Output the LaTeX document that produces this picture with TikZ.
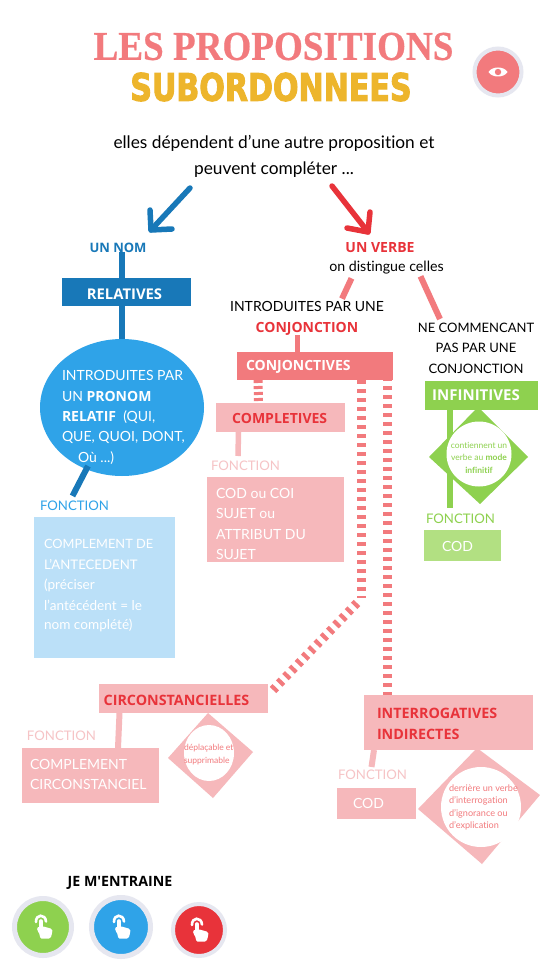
\documentclass[tikz,border=0pt]{standalone}
\usepackage{fontspec}
\setmainfont[Ligatures=NoCommon]{Lato}
\newfontfamily\boldlab{Open Sans}
\newfontfamily\titlefont[FakeBold=0.6]{Liberation Serif}
\newfontfamily\roughfont[FakeBold=3]{DejaVu Sans}
\usetikzlibrary{calc}
\definecolor{coral}{HTML}{F27A7D}
\definecolor{pinkb}{HTML}{F6B8BB}
\definecolor{redc}{HTML}{E8333A}
\definecolor{dblue}{HTML}{1878B8}
\definecolor{mblue}{HTML}{2FA3E8}
\definecolor{lblue}{HTML}{BBE0F8}
\definecolor{green}{HTML}{8ED14F}
\definecolor{lgreen}{HTML}{B2E082}
\definecolor{gold}{HTML}{EDB52C}
\definecolor{ringc}{HTML}{E6E7F0}
\definecolor{fpink}{HTML}{F6C4C6}
\tikzset{
  box/.style={inner sep=0pt,outer sep=0pt,draw=none},
  txt/.style={inner sep=0pt,outer sep=0pt,yshift=-0.8pt,font=\fontsize{14}{17}\selectfont},
  lab/.style={txt,yshift=-0.7pt,font=\fontsize{14}{17}\boldlab\bfseries},
  blk/.style={txt,text=black},
  wt/.style={txt,text=white,anchor=west},
  fct/.style={txt,anchor=west,font=\fontsize{13.2}{17}\selectfont},
  small/.style={inner sep=0pt,outer sep=0pt,anchor=west},
  pics/handicon/.style={code={
    \draw[white,line width=2.6pt,line cap=round] (-7,-5) .. controls (-7.5,-13) and (2.5,-13.5) .. (3,-5.5);
    \draw[white,line width=3.6pt,line cap=round] (-2.3,-6) -- (-2.3,3);
    \fill[white,rounded corners=1.5pt] (-4,0) -- (-6.3,0.5) -- (-5.5,3.5) -- (-3,8) -- (-3,11.5) -- (7.5,11.5) -- (9.3,5.5) -- (9.3,2) -- (-0.5,-0.8) -- cycle;
  }}
}
\begin{document}
\begin{tikzpicture}[x=1pt,y=-1pt]
\useasboundingbox (0,0) rectangle (540,960);
\fill[white] (0,0) rectangle (540,960);
% title
\node[inner sep=0pt,text=coral,xscale=0.905,font=\fontsize{41}{41}\titlefont\bfseries] (title) at (273.5,46.5) {LES PROPOSITIONS};
\node[inner sep=0pt,text=gold,xscale=0.97,yscale=1.22,font=\fontsize{31}{31}\roughfont\bfseries] (sub) at (271,87) {SUBORDONNEES};
% eye
\node[circle,fill=coral,draw=ringc,line width=4pt,minimum size=47pt,inner sep=0pt] (eye) at (498,72) {};
\fill[white] (488.5,72) .. controls (492,66) and (504,66) .. (507.5,72) .. controls (504,78) and (492,78) .. (488.5,72) -- cycle;
\fill[coral] (498,72) circle (3.2pt);
% intro
\node[blk,font=\fontsize{17.3}{20}\selectfont] (intro1) at (274,143) {elles dépendent d'une autre proposition et};
\node[blk,font=\fontsize{17.3}{20}\selectfont] (intro2) at (274,169) {peuvent compléter ...};
% arrows
\coordinate (ab0) at (190,188);
\coordinate (ab1) at (151,230);
\coordinate (ar0) at (332,186);
\coordinate (ar1) at (368,232);
\draw[dblue,line width=5.5pt,line cap=round,line join=round] (ab0) -- (ab1);
\draw[dblue,line width=5.5pt,line cap=round,line join=round] (150,210) -- (ab1) -- (172,229);
\draw[redc,line width=5.5pt,line cap=round,line join=round] (ar0) -- (ar1);
\draw[redc,line width=5.5pt,line cap=round,line join=round] (370,212) -- (ar1) -- (347,228);
% left column
\node[lab,text=dblue,font=\fontsize{13}{17}\boldlab\bfseries] (unnom) at (118,246) {UN NOM};
\node[box,fill=dblue,minimum width=129pt,minimum height=28pt] (rel) at (126.5,292) {};
\node[lab,text=white,font=\fontsize{14.8}{17}\boldlab\bfseries] (reltxt) at (124.5,293) {RELATIVES};
\fill[mblue] (122,407.5) ellipse (82pt and 68.5pt);
\node[box,minimum width=164pt,minimum height=137pt] (ell) at (122,407.5) {};
\draw[dblue,line width=5.5pt] ([xshift=4pt]unnom.south) -- ([xshift=-4.5pt]rel.north);
\draw[dblue,line width=6pt] ([xshift=-4.5pt]rel.south) -- ([xshift=0pt]ell.north);
\node[wt] (e1) at (62,375) {INTRODUITES PAR};
\node[wt] (e2) at (62,396) {UN {\boldlab\bfseries\fontsize{14}{17}\selectfont PRONOM}};
\node[wt] (e3) at (62,416) {{\boldlab\bfseries\fontsize{14}{17}\selectfont RELATIF}\ \ (QUI,};
\node[wt] (e4) at (62,437) {QUE, QUOI, DONT,};
\node[wt] (e5) at (78,457) {Où ...)};
\node[fct,text=mblue] (f1) at (40,505) {FONCTION};
\coordinate (bl0) at (88,466);
\draw[dblue,line width=6pt] (bl0) -- ([xshift=-2pt,yshift=5pt]f1.north);
\node[box,fill=lblue,minimum width=141pt,minimum height=141pt] (fb1) at (104.5,587.5) {};
\node[wt,font=\fontsize{12.8}{17}\selectfont] (l1) at (44,543) {COMPLEMENT DE};
\node[wt,font=\fontsize{13.2}{17}\selectfont] (l2) at (44,564) {L'ANTECEDENT};
\node[wt,font=\fontsize{13.6}{17}\selectfont] (l3) at (44,585) {(préciser};
\node[wt,font=\fontsize{13.6}{17}\selectfont] (l4) at (44,605) {l'antécédent = le};
\node[wt,font=\fontsize{13.6}{17}\selectfont] (l5) at (44,625) {nom complété)};
% verb
\node[lab,text=redc] (unverbe) at (380,246) {UN VERBE};
\node[blk,font=\fontsize{14.2}{17}\selectfont] (dist) at (386.5,267) {on distingue celles};
\node[blk] (intro3) at (307,306) {INTRODUITES PAR UNE};
\node[lab,text=redc] (conj) at (307,327) {CONJONCTION};
\node[blk,font=\fontsize{13}{17}\selectfont] (ne1) at (476,327) {NE COMMENCANT};
\node[blk,font=\fontsize{13}{17}\selectfont] (ne2) at (476,347) {PAS PAR UNE};
\node[blk,font=\fontsize{13}{17}\selectfont] (ne3) at (476,368) {CONJONCTION};
\draw[coral,line width=6pt] ([xshift=-35pt,yshift=-4pt]dist.south) -- ([xshift=35pt,yshift=3pt]intro3.north);
\draw[coral,line width=6pt] ([xshift=34pt,yshift=-2pt]dist.south) -- ([xshift=-36pt,yshift=4pt]ne1.north);
% conjonctives
\node[box,fill=coral,minimum width=156pt,minimum height=28pt] (conjb) at (315,366) {};
\node[lab,text=white,anchor=west] (conjt) at (246,365.5) {CONJONCTIVES};
\draw[coral,line width=5pt] ([xshift=-10pt]conj.south) -- ([xshift=-18pt]conjb.north);
\node[box,fill=pinkb,minimum width=129pt,minimum height=29pt] (comp) at (280.5,417.5) {};
\node[lab,text=redc] (compt) at (279.7,417) {COMPLETIVES};
\draw[coral,line width=9pt,dash pattern=on 3pt off 3pt] ([xshift=-57pt]conjb.south) -- ([xshift=-22pt]comp.north);
\draw[pinkb,line width=5.5pt] ([xshift=-42pt]comp.south) -- (238,456);
\node[fct,text=fpink] (f2) at (211,465) {FONCTION};
\node[box,fill=pinkb,minimum width=137pt,minimum height=85pt] (fb2) at (275.5,519.5) {};
\node[wt] (c1) at (216,493) {COD ou COI};
\node[wt] (c2) at (216,513) {SUJET ou};
\node[wt] (c3) at (216,534) {ATTRIBUT DU};
\node[wt] (c4) at (216,554) {SUJET};
% infinitives
\node[box,fill=green,minimum width=113pt,minimum height=29pt] (inf) at (481.5,395.5) {};
\node[lab,text=white,font=\fontsize{15}{17}\boldlab\bfseries] (inft) at (476,394) {INFINITIVES};
\node[fct,text=green] (f3) at (426,518) {FONCTION};
\draw[green,line width=5.5pt] ([xshift=-31.5pt]inf.south) -- (450,508);
\fill[green] (478,407) -- (528,457) -- (480,504) -- (429,457) -- cycle;
\fill[white] (479,454) circle (32.5pt);
\node[inner sep=0pt,text=green,font=\fontsize{8.5}{10}\selectfont] (d1) at (479,445) {contiennent un};
\node[inner sep=0pt,text=green,font=\fontsize{8.5}{10}\selectfont] (d2) at (479,457) {verbe au \textbf{mode}};
\node[inner sep=0pt,text=green,font=\fontsize{8.5}{10}\selectfont] (d3) at (479,470) {\textbf{infinitif}};
\node[box,fill=lgreen,minimum width=77pt,minimum height=31pt] (fb3) at (462.5,545.5) {};
\node[wt] (codg) at (442,546) {COD};
% circonstancielles
\node[box,fill=pinkb,minimum width=169pt,minimum height=29pt] (circ) at (183.5,698.5) {};
\node[lab,text=redc,font=\fontsize{14.3}{17}\boldlab\bfseries] (circt) at (176.5,699) {CIRCONSTANCIELLES};
\coordinate (corner) at (361,598);
\draw[coral,line width=9pt,dash pattern=on 4pt off 5pt] ([xshift=46pt]conjb.south) -- (corner);
\draw[coral,line width=9pt,dash pattern=on 4pt off 5pt] ([xshift=-4pt,yshift=-5pt]corner) -- ([xshift=5pt,yshift=-6pt]circ.north east);
\node[box,fill=pinkb,minimum width=169pt,minimum height=55pt] (inter) at (448.5,722.5) {};
\node[lab,text=redc,anchor=west,font=\fontsize{14.3}{17}\boldlab\bfseries] (i1) at (377,712) {INTERROGATIVES};
\node[lab,text=redc,anchor=west,font=\fontsize{14.3}{17}\boldlab\bfseries] (i2) at (377,733) {INDIRECTES};
\draw[coral,line width=9pt,dash pattern=on 4pt off 5pt] ([xshift=72pt,yshift=3pt]conjb.south) -- ([xshift=-61.5pt]inter.north);
\node[fct,text=fpink] (f4) at (27,735) {FONCTION};
\node[box,fill=pinkb,minimum width=137pt,minimum height=55pt] (fb4) at (90.5,775.5) {};
\draw[pinkb,line width=6pt] ([xshift=-64pt]circ.south) -- ([xshift=27.5pt]fb4.north);
\node[wt] (k1) at (30,764) {COMPLEMENT};
\node[wt] (k2) at (30,784) {CIRCONSTANCIEL};
\fill[pinkb] (208,713) -- (253,752) -- (213,798) -- (168,758) -- cycle;
\fill[white] (209,753) ellipse (25pt and 28pt);
\node[small,text=coral,font=\fontsize{8.5}{10}\selectfont] (s1) at (184,748) {déplaçable et};
\node[small,text=coral,font=\fontsize{8.5}{10}\selectfont] (s2) at (184,761) {supprimable};
% interrogatives lower
\node[fct,text=fpink] (f5) at (338,774) {FONCTION};
\draw[pinkb,line width=6pt] ([xshift=-74.5pt]inter.south) -- ([yshift=3pt,xshift=-1pt]f5.north);
\node[box,fill=pinkb,minimum width=79pt,minimum height=31pt] (fb5) at (376.5,803.5) {};
\node[wt] (codp) at (353,803) {COD};
\fill[pinkb] (477,748) -- (540,795) -- (482,864) -- (418,809) -- cycle;
\fill[white] (481,807) circle (40pt);
\node[small,text=coral,font=\fontsize{9.1}{11}\selectfont] (t1) at (449,788) {derrière un verbe};
\node[small,text=coral,font=\fontsize{9.1}{11}\selectfont] (t2) at (449,801) {d'interrogation};
\node[small,text=coral,font=\fontsize{9.1}{11}\selectfont] (t3) at (449,814) {d'ignorance ou};
\node[small,text=coral,font=\fontsize{9.1}{11}\selectfont] (t4) at (449,826) {d'explication};
% buttons
\node[inner sep=0pt,text=black,yshift=-1.5pt,font=\fontsize{14.2}{15}\boldlab\bfseries] (train) at (120,881) {JE M'ENTRAINE};
\node[circle,fill=green,draw=ringc,line width=5pt,minimum size=57pt,inner sep=0pt] (b1) at (43,927) {};
\node[circle,fill=mblue,draw=ringc,line width=5pt,minimum size=59pt,inner sep=0pt] (b2) at (121,927) {};
\node[circle,fill=redc,draw=ringc,line width=4pt,minimum size=52pt,inner sep=0pt] (b3) at (199,930) {};
\pic at (b1.center) {handicon};
\pic at (b2.center) {handicon};
\pic at (b3.center) {handicon};
\end{tikzpicture}
\end{document}
